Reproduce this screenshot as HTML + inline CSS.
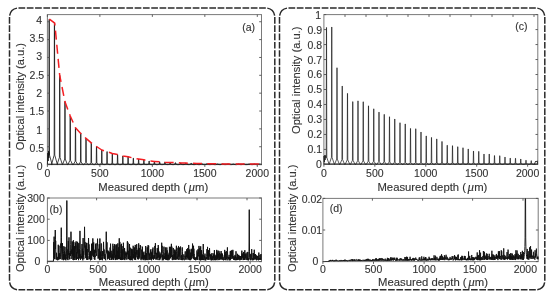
<!DOCTYPE html><html><head><meta charset="utf-8"><style>html,body{margin:0;padding:0;background:#fff;}svg{display:block;}</style></head><body><svg width="550" height="297" viewBox="0 0 550 297">
<rect width="550" height="297" fill="#fff"/>
<path d="M18.50 8.00L25.20 8.00M26.80 8.00L33.50 8.00M35.09 8.00L41.79 8.00M43.39 8.00L50.09 8.00M51.69 8.00L58.39 8.00M59.98 8.00L66.68 8.00M68.28 8.00L74.98 8.00M76.58 8.00L83.28 8.00M84.87 8.00L91.57 8.00M93.17 8.00L99.87 8.00M101.47 8.00L108.17 8.00M109.76 8.00L116.46 8.00M118.06 8.00L124.76 8.00M126.36 8.00L133.06 8.00M134.65 8.00L141.35 8.00M142.95 8.00L149.65 8.00M151.24 8.00L157.94 8.00M159.54 8.00L166.24 8.00M167.84 8.00L174.54 8.00M176.13 8.00L182.83 8.00M184.43 8.00L191.13 8.00M192.73 8.00L199.43 8.00M201.02 8.00L207.72 8.00M209.32 8.00L216.02 8.00M217.62 8.00L224.32 8.00M225.91 8.00L232.61 8.00M234.21 8.00L240.91 8.00M242.51 8.00L249.21 8.00M250.80 8.00L257.50 8.00M259.10 8.00L265.80 8.00M267.29 8.12A9.0 9.0 0 0 1 274.68 15.51M274.80 17.00L274.80 23.70M274.80 25.29L274.80 31.99M274.80 33.59L274.80 40.29M274.80 41.88L274.80 48.58M274.80 50.17L274.80 56.87M274.80 58.47L274.80 65.17M274.80 66.76L274.80 73.46M274.80 75.05L274.80 81.75M274.80 83.35L274.80 90.05M274.80 91.64L274.80 98.34M274.80 99.94L274.80 106.64M274.80 108.23L274.80 114.93M274.80 116.52L274.80 123.22M274.80 124.82L274.80 131.52M274.80 133.11L274.80 139.81M274.80 141.40L274.80 148.10M274.80 149.70L274.80 156.40M274.80 157.99L274.80 164.69M274.80 166.28L274.80 172.98M274.80 174.58L274.80 181.28M274.80 182.87L274.80 189.57M274.80 191.16L274.80 197.86M274.80 199.46L274.80 206.16M274.80 207.75L274.80 214.45M274.80 216.05L274.80 222.75M274.80 224.34L274.80 231.04M274.80 232.63L274.80 239.33M274.80 240.93L274.80 247.63M274.80 249.22L274.80 255.92M274.80 257.51L274.80 264.21M274.80 265.81L274.80 272.51M274.80 274.10L274.80 280.80M274.68 282.29A9.0 9.0 0 0 1 267.29 289.68M265.80 289.80L259.10 289.80M257.50 289.80L250.80 289.80M249.21 289.80L242.51 289.80M240.91 289.80L234.21 289.80M232.61 289.80L225.91 289.80M224.32 289.80L217.62 289.80M216.02 289.80L209.32 289.80M207.72 289.80L201.02 289.80M199.43 289.80L192.73 289.80M191.13 289.80L184.43 289.80M182.83 289.80L176.13 289.80M174.54 289.80L167.84 289.80M166.24 289.80L159.54 289.80M157.94 289.80L151.24 289.80M149.65 289.80L142.95 289.80M141.35 289.80L134.65 289.80M133.06 289.80L126.36 289.80M124.76 289.80L118.06 289.80M116.46 289.80L109.76 289.80M108.17 289.80L101.47 289.80M99.87 289.80L93.17 289.80M91.57 289.80L84.87 289.80M83.28 289.80L76.58 289.80M74.98 289.80L68.28 289.80M66.68 289.80L59.98 289.80M58.39 289.80L51.69 289.80M50.09 289.80L43.39 289.80M41.79 289.80L35.09 289.80M33.50 289.80L26.80 289.80M25.20 289.80L18.50 289.80M17.01 289.68A9.0 9.0 0 0 1 9.62 282.29M9.50 280.80L9.50 274.10M9.50 272.51L9.50 265.81M9.50 264.21L9.50 257.51M9.50 255.92L9.50 249.22M9.50 247.63L9.50 240.93M9.50 239.33L9.50 232.63M9.50 231.04L9.50 224.34M9.50 222.75L9.50 216.05M9.50 214.45L9.50 207.75M9.50 206.16L9.50 199.46M9.50 197.86L9.50 191.16M9.50 189.57L9.50 182.87M9.50 181.28L9.50 174.58M9.50 172.98L9.50 166.28M9.50 164.69L9.50 157.99M9.50 156.40L9.50 149.70M9.50 148.10L9.50 141.40M9.50 139.81L9.50 133.11M9.50 131.52L9.50 124.82M9.50 123.22L9.50 116.52M9.50 114.93L9.50 108.23M9.50 106.64L9.50 99.94M9.50 98.34L9.50 91.64M9.50 90.05L9.50 83.35M9.50 81.75L9.50 75.05M9.50 73.46L9.50 66.76M9.50 65.17L9.50 58.47M9.50 56.87L9.50 50.17M9.50 48.58L9.50 41.88M9.50 40.29L9.50 33.59M9.50 31.99L9.50 25.29M9.50 23.70L9.50 17.00M9.62 15.51A9.0 9.0 0 0 1 17.01 8.12" fill="none" stroke="#2a2a2a" stroke-width="1.5"/>
<path d="M288.50 8.00L295.20 8.00M296.80 8.00L303.50 8.00M305.09 8.00L311.79 8.00M313.39 8.00L320.09 8.00M321.69 8.00L328.39 8.00M329.98 8.00L336.68 8.00M338.28 8.00L344.98 8.00M346.58 8.00L353.28 8.00M354.87 8.00L361.57 8.00M363.17 8.00L369.87 8.00M371.47 8.00L378.17 8.00M379.76 8.00L386.46 8.00M388.06 8.00L394.76 8.00M396.36 8.00L403.06 8.00M404.65 8.00L411.35 8.00M412.95 8.00L419.65 8.00M421.24 8.00L427.94 8.00M429.54 8.00L436.24 8.00M437.84 8.00L444.54 8.00M446.13 8.00L452.83 8.00M454.43 8.00L461.13 8.00M462.73 8.00L469.43 8.00M471.02 8.00L477.72 8.00M479.32 8.00L486.02 8.00M487.62 8.00L494.32 8.00M495.91 8.00L502.61 8.00M504.21 8.00L510.91 8.00M512.51 8.00L519.21 8.00M520.80 8.00L527.50 8.00M529.10 8.00L535.80 8.00M537.29 8.12A9.0 9.0 0 0 1 544.68 15.51M544.80 17.00L544.80 23.70M544.80 25.29L544.80 31.99M544.80 33.59L544.80 40.29M544.80 41.88L544.80 48.58M544.80 50.17L544.80 56.87M544.80 58.47L544.80 65.17M544.80 66.76L544.80 73.46M544.80 75.05L544.80 81.75M544.80 83.35L544.80 90.05M544.80 91.64L544.80 98.34M544.80 99.94L544.80 106.64M544.80 108.23L544.80 114.93M544.80 116.52L544.80 123.22M544.80 124.82L544.80 131.52M544.80 133.11L544.80 139.81M544.80 141.40L544.80 148.10M544.80 149.70L544.80 156.40M544.80 157.99L544.80 164.69M544.80 166.28L544.80 172.98M544.80 174.58L544.80 181.28M544.80 182.87L544.80 189.57M544.80 191.16L544.80 197.86M544.80 199.46L544.80 206.16M544.80 207.75L544.80 214.45M544.80 216.05L544.80 222.75M544.80 224.34L544.80 231.04M544.80 232.63L544.80 239.33M544.80 240.93L544.80 247.63M544.80 249.22L544.80 255.92M544.80 257.51L544.80 264.21M544.80 265.81L544.80 272.51M544.80 274.10L544.80 280.80M544.68 282.29A9.0 9.0 0 0 1 537.29 289.68M535.80 289.80L529.10 289.80M527.50 289.80L520.80 289.80M519.21 289.80L512.51 289.80M510.91 289.80L504.21 289.80M502.61 289.80L495.91 289.80M494.32 289.80L487.62 289.80M486.02 289.80L479.32 289.80M477.72 289.80L471.02 289.80M469.43 289.80L462.73 289.80M461.13 289.80L454.43 289.80M452.83 289.80L446.13 289.80M444.54 289.80L437.84 289.80M436.24 289.80L429.54 289.80M427.94 289.80L421.24 289.80M419.65 289.80L412.95 289.80M411.35 289.80L404.65 289.80M403.06 289.80L396.36 289.80M394.76 289.80L388.06 289.80M386.46 289.80L379.76 289.80M378.17 289.80L371.47 289.80M369.87 289.80L363.17 289.80M361.57 289.80L354.87 289.80M353.28 289.80L346.58 289.80M344.98 289.80L338.28 289.80M336.68 289.80L329.98 289.80M328.39 289.80L321.69 289.80M320.09 289.80L313.39 289.80M311.79 289.80L305.09 289.80M303.50 289.80L296.80 289.80M295.20 289.80L288.50 289.80M287.01 289.68A9.0 9.0 0 0 1 279.62 282.29M279.50 280.80L279.50 274.10M279.50 272.51L279.50 265.81M279.50 264.21L279.50 257.51M279.50 255.92L279.50 249.22M279.50 247.63L279.50 240.93M279.50 239.33L279.50 232.63M279.50 231.04L279.50 224.34M279.50 222.75L279.50 216.05M279.50 214.45L279.50 207.75M279.50 206.16L279.50 199.46M279.50 197.86L279.50 191.16M279.50 189.57L279.50 182.87M279.50 181.28L279.50 174.58M279.50 172.98L279.50 166.28M279.50 164.69L279.50 157.99M279.50 156.40L279.50 149.70M279.50 148.10L279.50 141.40M279.50 139.81L279.50 133.11M279.50 131.52L279.50 124.82M279.50 123.22L279.50 116.52M279.50 114.93L279.50 108.23M279.50 106.64L279.50 99.94M279.50 98.34L279.50 91.64M279.50 90.05L279.50 83.35M279.50 81.75L279.50 75.05M279.50 73.46L279.50 66.76M279.50 65.17L279.50 58.47M279.50 56.87L279.50 50.17M279.50 48.58L279.50 41.88M279.50 40.29L279.50 33.59M279.50 31.99L279.50 25.29M279.50 23.70L279.50 17.00M279.62 15.51A9.0 9.0 0 0 1 287.01 8.12" fill="none" stroke="#2a2a2a" stroke-width="1.5"/>
<rect x="47.40" y="14.60" width="214.10" height="150.00" fill="none" stroke="#7a7a7a" stroke-width="1"/>
<rect x="47.40" y="198.00" width="214.10" height="63.60" fill="none" stroke="#7a7a7a" stroke-width="1"/>
<rect x="323.90" y="14.60" width="213.90" height="149.80" fill="none" stroke="#7a7a7a" stroke-width="1"/>
<rect x="322.90" y="198.40" width="215.30" height="63.20" fill="none" stroke="#7a7a7a" stroke-width="1"/>
<path d="M47.40 164.60L47.90 153.00L48.20 161.00L48.50 151.00L48.80 158.00L49.00 152.50L48.90 155.10L49.10 19.30L49.30 19.30L49.50 155.10L52.14 164.60L51.52 164.60L54.16 155.10L54.36 23.30L54.56 23.30L54.76 155.10L57.40 164.60L57.06 164.60L59.42 157.40L59.62 75.50L59.82 75.50L60.02 157.40L62.38 164.60L62.52 164.60L64.68 159.07L64.88 101.80L65.08 101.80L65.28 159.07L67.44 164.60L67.93 164.60L69.94 160.32L70.14 116.00L70.34 116.00L70.54 160.32L72.55 164.60L73.30 164.60L75.20 161.25L75.40 127.80L75.60 127.80L75.80 161.25L77.70 164.60L78.64 164.60L80.46 161.95L80.66 133.40L80.86 133.40L81.06 161.95L82.88 164.60L83.96 164.60L85.72 162.47L85.92 138.40L86.12 138.40L86.32 162.47L88.08 164.60L89.27 164.60L90.98 162.86L91.18 142.80L91.38 142.80L91.58 162.86L93.29 164.60L94.57 164.60L96.24 163.15L96.44 146.50L96.64 146.50L96.84 163.15L98.51 164.60L99.85 164.60L101.50 163.36L101.70 150.00L101.90 150.00L102.10 163.36L103.75 164.60L105.13 164.60L106.76 163.52L106.96 151.60L107.16 151.60L107.36 163.52L108.99 164.60L110.41 164.60L112.02 163.64L112.22 153.50L112.42 153.50L112.62 163.64L114.23 164.60L115.68 164.60L117.28 163.73L117.48 154.60L117.68 154.60L117.88 163.73L119.48 164.60L120.94 164.60L122.54 163.80L122.74 156.00L122.94 156.00L123.14 163.80L124.74 164.60L126.21 164.60L127.80 163.85L128.00 156.70L128.20 156.70L128.40 163.85L129.99 164.60L131.47 164.60L133.06 163.89L133.26 158.20L133.46 158.20L133.66 163.89L135.25 164.60L136.74 164.60L138.32 163.92L138.52 159.00L138.72 159.00L138.92 163.92L140.50 164.60L142.00 164.60L143.58 163.94L143.78 159.80L143.98 159.80L144.18 163.94L145.76 164.60L147.26 164.60L148.84 163.95L149.04 161.00L149.24 161.00L149.44 163.95L151.02 164.60L152.52 164.60L154.10 163.97L154.30 161.40L154.50 161.40L154.70 163.97L156.28 164.60L157.78 164.60L159.36 163.97L159.56 161.80L159.76 161.80L159.96 163.97L161.54 164.60L163.05 164.60L164.62 163.98L164.82 162.13L165.02 162.13L165.22 163.98L166.79 164.60L168.31 164.60L169.88 163.99L170.08 162.42L170.28 162.42L170.48 163.99L172.05 164.60L173.57 164.60L175.14 163.99L175.34 162.68L175.54 162.68L175.74 163.99L177.31 164.60L178.83 164.60L180.40 163.99L180.60 162.90L180.80 162.90L181.00 163.99L182.57 164.60L184.09 164.60L185.66 163.99L185.86 163.10L186.06 163.10L186.26 163.99L187.83 164.60L189.35 164.60L190.92 164.00L191.12 163.28L191.32 163.28L191.52 164.00L193.09 164.60L194.61 164.60L196.18 164.02L196.38 163.43L196.58 163.43L196.78 164.02L198.35 164.60L199.88 164.60L201.44 164.08L201.64 163.57L201.84 163.57L202.04 164.08L203.60 164.60L205.15 164.60L206.70 164.15L206.90 163.69L207.10 163.69L207.30 164.15L208.85 164.60L210.41 164.60L211.96 164.20L212.16 163.80L212.36 163.80L212.56 164.20L214.11 164.60L215.68 164.60L217.22 164.25L217.42 163.89L217.62 163.89L217.82 164.25L219.36 164.60L220.94 164.60L222.48 164.25L222.68 163.90L222.88 163.90L223.08 164.25L224.62 164.60L226.20 164.60L227.74 164.25L227.94 163.90L228.14 163.90L228.34 164.25L229.88 164.60L231.46 164.60L233.00 164.25L233.20 163.90L233.40 163.90L233.60 164.25L235.14 164.60L236.72 164.60L238.26 164.25L238.46 163.90L238.66 163.90L238.86 164.25L240.40 164.60L241.98 164.60L243.52 164.25L243.72 163.90L243.92 163.90L244.12 164.25L245.66 164.60L247.24 164.60L248.78 164.25L248.98 163.90L249.18 163.90L249.38 164.25L250.92 164.60L252.50 164.60L254.04 164.25L254.24 163.90L254.44 163.90L254.64 164.25L256.18 164.60L257.76 164.60L259.30 164.25L259.50 163.90L259.70 163.90L259.90 164.25L261.44 164.60L261.50 164.60" fill="none" stroke="#111" stroke-width="0.8" stroke-linejoin="round" />
<path d="M323.90 164.40L324.00 156.00L324.40 162.00L324.80 155.00L325.20 160.00L325.60 155.50L326.10 158.00L326.20 157.40L326.44 27.48L326.56 27.48L326.80 157.40L329.14 164.40L329.11 164.40L331.45 157.40L331.69 27.03L331.81 27.03L332.05 157.40L334.39 164.40L334.56 164.40L336.70 159.08L336.94 67.78L337.06 67.78L337.30 159.08L339.44 164.40L339.87 164.40L341.95 159.53L342.19 86.05L342.31 86.05L342.55 159.53L344.63 164.40L345.16 164.40L347.20 159.94L347.44 93.39L347.56 93.39L347.80 159.94L349.84 164.40L350.46 164.40L352.45 160.30L352.69 101.63L352.81 101.63L353.05 160.30L355.04 164.40L355.75 164.40L357.70 160.63L357.94 100.88L358.06 100.88L358.30 160.63L360.25 164.40L361.03 164.40L362.95 160.93L363.19 101.78L363.31 101.78L363.55 160.93L365.47 164.40L366.32 164.40L368.20 161.19L368.44 105.83L368.56 105.83L368.80 161.19L370.68 164.40L371.59 164.40L373.45 161.43L373.69 108.82L373.81 108.82L374.05 161.43L375.91 164.40L376.87 164.40L378.70 161.65L378.94 112.12L379.06 112.12L379.30 161.65L381.13 164.40L382.14 164.40L383.95 161.84L384.19 114.37L384.31 114.37L384.55 161.84L386.36 164.40L387.41 164.40L389.20 162.02L389.44 116.76L389.56 116.76L389.80 162.02L391.59 164.40L392.68 164.40L394.45 162.18L394.69 119.01L394.81 119.01L395.05 162.18L396.82 164.40L397.95 164.40L399.70 162.32L399.94 122.76L400.06 122.76L400.30 162.32L402.05 164.40L403.22 164.40L404.95 162.45L405.19 123.95L405.31 123.95L405.55 162.45L407.28 164.40L408.48 164.40L410.20 162.56L410.44 128.45L410.56 128.45L410.80 162.56L412.52 164.40L413.74 164.40L415.45 162.66L415.69 128.75L415.81 128.75L416.05 162.66L417.76 164.40L419.00 164.40L420.70 162.76L420.94 132.04L421.06 132.04L421.30 162.76L423.00 164.40L424.26 164.40L425.95 162.84L426.19 135.94L426.31 135.94L426.55 162.84L428.24 164.40L429.52 164.40L431.20 162.92L431.44 137.44L431.56 137.44L431.80 162.92L433.48 164.40L434.78 164.40L436.45 162.99L436.69 138.93L436.81 138.93L437.05 162.99L438.72 164.40L440.04 164.40L441.70 163.05L441.94 141.48L442.06 141.48L442.30 163.05L443.96 164.40L445.29 164.40L446.95 163.10L447.19 145.23L447.31 145.23L447.55 163.10L449.21 164.40L450.55 164.40L452.20 163.15L452.44 145.68L452.56 145.68L452.80 163.15L454.45 164.40L455.81 164.40L457.45 163.20L457.69 146.72L457.81 146.72L458.05 163.20L459.69 164.40L461.06 164.40L462.70 163.24L462.94 147.77L463.06 147.77L463.30 163.24L464.94 164.40L466.31 164.40L467.95 163.27L468.19 148.97L468.31 148.97L468.55 163.27L470.19 164.40L471.57 164.40L473.20 163.31L473.44 151.07L473.56 151.07L473.80 163.31L475.43 164.40L476.82 164.40L478.45 163.33L478.69 151.37L478.81 151.37L479.05 163.33L480.68 164.40L482.08 164.40L483.70 163.36L483.94 154.06L484.06 154.06L484.30 163.36L485.92 164.40L487.33 164.40L488.95 163.38L489.19 154.06L489.31 154.06L489.55 163.38L491.17 164.40L492.58 164.40L494.20 163.41L494.44 155.56L494.56 155.56L494.80 163.41L496.42 164.40L497.83 164.40L499.45 163.43L499.69 155.71L499.81 155.71L500.05 163.43L501.67 164.40L503.09 164.40L504.70 163.44L504.94 157.06L505.06 157.06L505.30 163.44L506.91 164.40L508.34 164.40L509.95 163.46L510.19 158.11L510.31 158.11L510.55 163.46L512.16 164.40L513.59 164.40L515.20 163.47L515.44 158.26L515.56 158.26L515.80 163.47L517.41 164.40L518.84 164.40L520.45 163.49L520.69 159.01L520.81 159.01L521.05 163.49L522.66 164.40L524.09 164.40L525.70 163.50L525.94 160.21L526.06 160.21L526.30 163.50L527.91 164.40L529.34 164.40L530.95 163.51L531.19 160.66L531.31 160.66L531.55 163.51L533.16 164.40L537.80 164.40" fill="none" stroke="#1a1a1a" stroke-width="0.72" stroke-linejoin="round" />
<path d="M47.40 164.20H261.50M323.90 164.00H537.80" stroke="#222" stroke-width="1.0"/>
<path d="M534.50 164.00L535.60 161.20L536.40 162.00L537.20 160.80L537.60 163.80" fill="none" stroke="#111" stroke-width="0.8" stroke-linejoin="round" />
<path d="M47.40 261.28L47.54 261.28L47.69 261.28L47.83 261.28L47.97 261.28L48.11 261.28L48.26 261.28L48.40 261.28L48.54 261.28L48.69 261.28L48.83 261.28L48.97 261.28L49.11 261.28L49.26 261.28L49.40 261.28L49.54 261.28L49.69 261.28L49.83 261.28L49.97 261.28L50.11 261.28L50.26 261.28L50.40 261.28L50.54 261.28L50.69 261.28L50.83 261.28L50.97 261.28L51.11 261.28L51.26 261.28L51.40 261.28L51.54 261.28L51.69 261.28L51.83 261.28L51.97 261.28L52.11 261.28L52.26 261.28L52.40 261.28L52.54 261.28L52.69 261.28L52.83 261.28L52.97 261.28L53.11 261.28L53.26 261.28L53.40 261.28L53.54 258.17L53.69 242.18L53.83 243.46L53.97 254.38L54.11 236.67L54.26 246.89L54.40 259.14L54.54 253.34L54.69 258.05L54.83 259.07L54.97 248.96L55.11 239.49L55.26 230.01L55.40 239.49L55.54 248.96L55.69 240.85L55.83 253.31L55.97 255.88L56.11 257.27L56.26 259.55L56.40 252.75L56.54 253.85L56.69 258.70L56.83 259.19L56.97 257.85L57.11 258.63L57.26 260.07L57.40 259.17L57.54 259.79L57.69 260.28L57.83 256.87L57.97 258.58L58.11 252.57L58.26 244.76L58.40 252.30L58.54 258.88L58.69 259.74L58.83 253.54L58.97 245.71L59.11 256.14L59.26 255.14L59.40 254.09L59.54 259.08L59.69 253.07L59.83 258.71L59.97 257.47L60.11 259.17L60.26 259.03L60.40 255.75L60.54 256.23L60.69 245.00L60.83 243.45L60.97 248.03L61.11 237.86L61.26 227.68L61.40 237.86L61.54 248.03L61.69 254.95L61.83 258.46L61.97 259.48L62.11 258.60L62.26 259.39L62.40 243.08L62.54 253.29L62.69 250.00L62.83 252.42L62.97 255.55L63.11 258.95L63.26 254.39L63.40 260.22L63.54 253.57L63.69 251.63L63.83 246.23L63.97 250.65L64.11 257.40L64.26 259.64L64.40 257.79L64.54 251.29L64.69 259.00L64.83 256.90L64.97 246.87L65.11 251.35L65.26 254.40L65.40 259.54L65.54 259.97L65.69 254.44L65.83 260.30L65.97 256.85L66.11 258.89L66.26 256.39L66.40 256.59L66.54 250.07L66.69 235.07L66.83 200.54L66.97 235.07L67.11 250.07L67.26 256.59L67.40 259.42L67.54 257.06L67.69 252.60L67.83 249.38L67.97 260.13L68.11 247.41L68.26 240.98L68.40 241.66L68.54 250.32L68.69 254.91L68.83 253.55L68.97 237.38L69.11 257.00L69.26 258.25L69.40 253.03L69.54 259.11L69.69 259.40L69.83 258.40L69.97 258.92L70.11 256.62L70.26 251.21L70.40 252.40L70.54 255.98L70.69 244.62L70.83 240.68L70.97 231.71L71.11 240.68L71.26 249.02L71.40 253.71L71.54 249.74L71.69 249.53L71.83 258.93L71.97 256.90L72.11 253.51L72.26 241.50L72.40 253.29L72.54 256.15L72.69 245.59L72.83 255.79L72.97 259.89L73.11 258.44L73.26 241.31L73.40 240.26L73.54 260.15L73.69 256.69L73.83 242.08L73.97 258.20L74.11 256.32L74.26 258.01L74.40 252.42L74.54 246.16L74.69 259.63L74.83 258.85L74.97 259.83L75.11 257.76L75.26 247.02L75.40 248.39L75.54 242.73L75.69 248.39L75.83 245.76L75.97 258.58L76.11 241.33L76.26 251.90L76.40 259.90L76.54 252.21L76.69 258.75L76.83 258.79L76.97 257.15L77.11 257.65L77.26 258.94L77.40 241.75L77.54 241.91L77.69 253.34L77.83 244.17L77.97 252.13L78.11 254.64L78.26 257.98L78.40 257.48L78.54 260.17L78.69 258.97L78.83 242.91L78.97 258.30L79.11 251.99L79.26 249.32L79.40 255.86L79.54 258.31L79.69 248.85L79.83 240.08L79.97 230.86L80.11 240.08L80.26 249.30L80.40 255.66L80.54 259.87L80.69 254.48L80.83 257.41L80.97 256.62L81.11 258.72L81.26 257.33L81.40 256.22L81.54 257.52L81.69 255.70L81.83 252.92L81.97 244.02L82.11 258.06L82.26 258.60L82.40 248.79L82.54 257.05L82.69 259.06L82.83 260.32L82.97 246.69L83.11 238.07L83.26 257.23L83.40 251.36L83.54 255.87L83.69 257.49L83.83 259.20L83.97 255.67L84.11 252.03L84.26 247.66L84.40 237.26L84.54 226.83L84.69 237.26L84.83 247.69L84.97 241.92L85.11 242.15L85.26 254.85L85.40 255.33L85.54 254.60L85.69 245.79L85.83 258.00L85.97 253.00L86.11 245.52L86.26 258.48L86.40 242.83L86.54 255.45L86.69 259.61L86.83 258.69L86.97 258.30L87.11 259.60L87.26 248.71L87.40 257.03L87.54 256.93L87.69 259.69L87.83 256.17L87.97 259.48L88.11 242.92L88.26 248.05L88.40 245.13L88.54 238.07L88.69 245.13L88.83 252.19L88.97 244.37L89.11 246.71L89.26 254.98L89.40 254.26L89.54 259.01L89.69 259.07L89.83 252.24L89.97 254.28L90.11 259.38L90.26 257.93L90.40 251.72L90.54 260.31L90.69 250.90L90.83 256.97L90.97 259.39L91.11 256.05L91.26 258.98L91.40 254.58L91.54 244.02L91.69 259.68L91.83 248.99L91.97 248.58L92.11 243.37L92.26 247.50L92.40 243.10L92.54 243.59L92.69 255.67L92.83 238.38L92.97 250.79L93.11 246.77L93.26 244.07L93.40 256.97L93.54 254.30L93.69 242.39L93.83 253.02L93.97 250.62L94.11 254.25L94.26 259.09L94.40 256.98L94.54 249.82L94.69 253.02L94.83 259.89L94.97 255.52L95.11 256.99L95.26 252.92L95.40 252.45L95.54 244.41L95.69 252.77L95.83 243.62L95.97 250.38L96.11 250.72L96.26 255.56L96.40 255.67L96.54 254.21L96.69 255.52L96.83 249.90L96.97 246.03L97.11 243.19L97.26 244.46L97.40 245.57L97.54 238.70L97.69 245.57L97.83 252.10L97.97 256.75L98.11 258.78L98.26 258.18L98.40 255.30L98.54 257.82L98.69 257.48L98.83 248.81L98.97 251.34L99.11 258.22L99.26 244.25L99.40 260.14L99.54 258.93L99.69 243.34L99.83 238.46L99.97 238.65L100.11 260.06L100.26 258.27L100.40 251.58L100.54 256.07L100.69 259.63L100.83 259.87L100.97 254.46L101.11 255.90L101.26 243.43L101.40 258.44L101.54 259.14L101.69 258.72L101.83 258.01L101.97 259.55L102.11 258.61L102.26 257.41L102.40 260.23L102.54 251.12L102.69 252.20L102.83 254.60L102.97 256.15L103.11 253.02L103.26 253.71L103.40 247.80L103.54 241.88L103.69 247.80L103.83 253.71L103.97 258.75L104.11 249.50L104.26 253.43L104.40 257.85L104.54 256.66L104.69 259.12L104.83 254.93L104.97 253.94L105.11 254.55L105.26 255.86L105.40 258.52L105.54 259.94L105.69 260.28L105.83 257.84L105.97 249.64L106.11 240.68L106.26 231.71L106.40 240.68L106.54 249.64L106.69 252.67L106.83 252.28L106.97 242.34L107.11 253.76L107.26 254.19L107.40 250.60L107.54 259.33L107.69 254.58L107.83 254.51L107.97 257.14L108.11 250.63L108.26 253.88L108.40 254.20L108.54 252.28L108.69 258.21L108.83 251.42L108.97 259.04L109.11 257.05L109.26 252.18L109.40 253.13L109.54 257.38L109.69 259.96L109.83 259.16L109.97 259.92L110.11 247.56L110.26 256.68L110.40 257.24L110.54 243.66L110.69 248.50L110.83 254.47L110.97 252.88L111.11 258.15L111.26 255.58L111.40 256.07L111.54 259.92L111.69 259.65L111.83 250.79L111.97 259.64L112.11 255.57L112.26 254.55L112.40 258.45L112.54 254.67L112.69 255.39L112.83 243.78L112.97 247.49L113.11 257.42L113.26 256.68L113.40 259.67L113.54 249.21L113.69 249.85L113.83 259.66L113.97 254.53L114.11 245.98L114.26 254.83L114.40 254.65L114.54 244.20L114.69 250.41L114.83 257.81L114.97 245.37L115.11 254.84L115.26 257.63L115.40 259.25L115.54 260.05L115.69 254.86L115.83 259.02L115.97 256.08L116.11 244.35L116.26 259.70L116.40 259.24L116.54 259.17L116.69 244.72L116.83 258.94L116.97 251.16L117.11 256.90L117.26 253.45L117.40 250.60L117.54 259.55L117.69 250.46L117.83 243.36L117.97 253.41L118.11 258.15L118.26 251.56L118.40 258.30L118.54 259.15L118.69 247.26L118.83 253.07L118.97 257.45L119.11 257.62L119.26 238.31L119.40 259.02L119.54 253.54L119.69 247.80L119.83 241.88L119.97 247.80L120.11 253.71L120.26 259.83L120.40 257.31L120.54 257.16L120.69 259.89L120.83 251.97L120.97 249.15L121.11 244.61L121.26 253.08L121.40 243.81L121.54 259.90L121.69 259.76L121.83 252.33L121.97 246.00L122.11 246.52L122.26 259.79L122.40 259.93L122.54 249.45L122.69 253.57L122.83 252.17L122.97 259.45L123.11 254.05L123.26 248.39L123.40 242.73L123.54 248.39L123.69 254.05L123.83 258.50L123.97 259.42L124.11 258.04L124.26 259.05L124.40 259.54L124.54 247.97L124.69 249.83L124.83 260.08L124.97 257.95L125.11 256.67L125.26 258.49L125.40 253.08L125.54 254.95L125.69 255.31L125.83 251.54L125.97 254.39L126.11 255.48L126.26 254.01L126.40 256.45L126.54 252.69L126.69 257.79L126.83 259.71L126.97 253.85L127.11 253.85L127.26 243.20L127.40 241.28L127.54 245.70L127.69 254.37L127.83 248.43L127.97 242.68L128.11 258.86L128.26 250.71L128.40 254.57L128.54 259.18L128.69 253.63L128.83 258.26L128.97 257.16L129.11 254.72L129.26 259.06L129.40 253.81L129.54 244.00L129.69 256.32L129.83 260.05L129.97 253.82L130.11 251.90L130.26 247.69L130.40 260.20L130.54 258.32L130.69 256.27L130.83 257.25L130.97 256.28L131.11 257.73L131.26 259.95L131.40 258.22L131.54 248.79L131.69 258.56L131.83 259.31L131.97 256.74L132.11 259.91L132.26 260.31L132.40 254.05L132.54 254.83L132.69 249.27L132.83 257.23L132.97 258.12L133.11 245.78L133.26 246.20L133.40 253.20L133.54 258.21L133.69 256.93L133.83 253.95L133.97 256.84L134.11 255.34L134.26 259.37L134.40 247.44L134.54 256.03L134.69 257.58L134.83 259.75L134.97 259.18L135.11 257.51L135.26 244.91L135.40 251.92L135.54 259.31L135.69 260.04L135.83 252.14L135.97 257.25L136.11 257.25L136.26 254.80L136.40 254.65L136.54 249.43L136.69 244.22L136.83 249.43L136.97 254.65L137.11 250.10L137.26 251.85L137.40 257.65L137.54 259.17L137.69 256.39L137.83 258.33L137.97 257.93L138.11 250.89L138.26 248.53L138.40 259.43L138.54 257.35L138.69 243.36L138.83 256.58L138.97 252.37L139.11 255.03L139.26 247.85L139.40 256.77L139.54 252.63L139.69 255.05L139.83 258.59L139.97 254.99L140.11 250.02L140.26 245.06L140.40 246.55L140.54 247.20L140.69 246.11L140.83 255.89L140.97 260.08L141.11 260.14L141.26 257.84L141.40 258.55L141.54 257.18L141.69 258.97L141.83 249.56L141.97 257.96L142.11 257.74L142.26 255.73L142.40 246.68L142.54 256.58L142.69 253.36L142.83 259.33L142.97 255.10L143.11 252.81L143.26 260.14L143.40 255.34L143.54 258.61L143.69 258.46L143.83 252.10L143.97 251.67L144.11 257.41L144.26 258.68L144.40 257.05L144.54 255.44L144.69 255.35L144.83 259.08L144.97 260.26L145.11 254.83L145.26 257.99L145.40 259.81L145.54 254.07L145.69 246.00L145.83 247.37L145.97 260.17L146.11 255.19L146.26 258.53L146.40 253.10L146.54 253.77L146.69 259.75L146.83 259.21L146.97 259.99L147.11 251.74L147.26 247.33L147.40 252.25L147.54 248.24L147.69 252.25L147.83 253.25L147.97 260.19L148.11 245.17L148.26 254.39L148.40 246.77L148.54 247.22L148.69 245.73L148.83 250.93L148.97 259.59L149.11 258.54L149.26 253.78L149.40 256.10L149.54 253.83L149.69 253.63L149.83 259.61L149.97 257.45L150.11 259.74L150.26 252.64L150.40 253.47L150.54 250.11L150.69 249.41L150.83 258.05L150.97 257.11L151.11 257.49L151.26 259.11L151.40 252.81L151.54 260.28L151.69 257.06L151.83 258.10L151.97 251.70L152.11 258.84L152.26 249.21L152.40 256.95L152.54 257.15L152.69 257.60L152.83 253.68L152.97 247.53L153.11 259.22L153.26 257.44L153.40 259.46L153.54 259.78L153.69 258.07L153.83 256.15L153.97 255.27L154.11 257.79L154.26 255.27L154.40 257.61L154.54 258.60L154.69 250.51L154.83 245.93L154.97 249.16L155.11 254.22L155.26 248.69L155.40 243.16L155.54 248.69L155.69 254.22L155.83 259.70L155.97 259.29L156.11 252.97L156.26 258.67L156.40 257.66L156.54 259.33L156.69 257.32L156.83 257.90L156.97 252.69L157.11 254.57L157.26 248.08L157.40 252.05L157.54 258.72L157.69 258.87L157.83 259.10L157.97 260.06L158.11 253.71L158.26 245.00L158.40 252.02L158.54 247.58L158.69 257.57L158.83 252.66L158.97 251.50L159.11 259.67L159.26 260.12L159.40 259.77L159.54 254.89L159.69 254.78L159.83 259.88L159.97 252.55L160.11 258.09L160.26 255.67L160.40 257.99L160.54 256.47L160.69 258.53L160.83 254.94L160.97 253.85L161.11 257.37L161.26 254.94L161.40 254.05L161.54 248.39L161.69 242.73L161.83 248.39L161.97 252.74L162.11 245.83L162.26 260.26L162.40 257.78L162.54 254.75L162.69 255.11L162.83 258.88L162.97 256.09L163.11 257.23L163.26 260.22L163.40 257.90L163.54 257.60L163.69 251.64L163.83 249.72L163.97 246.67L164.11 258.96L164.26 258.20L164.40 256.73L164.54 257.35L164.69 256.37L164.83 259.11L164.97 253.25L165.11 258.64L165.26 259.24L165.40 247.43L165.54 256.91L165.69 257.93L165.83 259.47L165.97 251.51L166.11 259.52L166.26 259.91L166.40 251.97L166.54 259.74L166.69 257.49L166.83 247.42L166.97 257.68L167.11 250.29L167.26 253.63L167.40 260.21L167.54 255.95L167.69 255.01L167.83 258.71L167.97 254.98L168.11 256.03L168.26 255.67L168.40 258.78L168.54 254.67L168.69 260.20L168.83 260.12L168.97 259.54L169.11 252.71L169.26 259.51L169.40 246.84L169.54 247.33L169.69 251.28L169.83 250.74L169.97 252.85L170.11 246.89L170.26 254.39L170.40 247.56L170.54 258.33L170.69 253.32L170.83 246.80L170.97 252.38L171.11 248.49L171.26 247.95L171.40 243.84L171.54 253.17L171.69 257.03L171.83 246.67L171.97 256.26L172.11 259.48L172.26 259.17L172.40 259.63L172.54 255.29L172.69 260.13L172.83 259.05L172.97 257.83L173.11 250.00L173.26 247.98L173.40 253.31L173.54 259.17L173.69 259.56L173.83 259.26L173.97 257.71L174.11 259.54L174.26 259.03L174.40 255.17L174.54 256.56L174.69 249.60L174.83 259.33L174.97 250.14L175.11 255.29L175.26 252.55L175.40 259.50L175.54 252.20L175.69 251.47L175.83 251.48L175.97 259.89L176.11 248.80L176.26 248.70L176.40 245.75L176.54 251.45L176.69 255.03L176.83 259.15L176.97 256.51L177.11 258.34L177.26 258.22L177.40 258.94L177.54 258.52L177.69 253.19L177.83 250.64L177.97 247.68L178.11 257.69L178.26 260.03L178.40 250.06L178.54 245.97L178.69 256.36L178.83 254.45L178.97 254.47L179.11 256.55L179.26 252.51L179.40 253.54L179.54 254.54L179.69 247.52L179.83 259.70L179.97 250.02L180.11 247.83L180.26 249.96L180.40 247.59L180.54 246.54L180.69 249.21L180.83 258.17L180.97 258.57L181.11 260.01L181.26 255.90L181.40 256.57L181.54 255.19L181.69 260.07L181.83 259.85L181.97 255.92L182.11 251.66L182.26 247.40L182.40 251.66L182.54 255.92L182.69 260.16L182.83 259.96L182.97 258.19L183.11 259.48L183.26 258.91L183.40 257.21L183.54 256.70L183.69 256.57L183.83 254.38L183.97 257.09L184.11 256.40L184.26 259.81L184.40 260.24L184.54 260.10L184.69 259.36L184.83 259.42L184.97 258.81L185.11 254.42L185.26 251.37L185.40 258.28L185.54 258.10L185.69 256.08L185.83 259.46L185.97 258.14L186.11 259.62L186.26 258.42L186.40 256.09L186.54 257.04L186.69 249.26L186.83 252.24L186.97 255.96L187.11 255.14L187.26 252.16L187.40 257.77L187.54 253.16L187.69 248.24L187.83 259.61L187.97 258.67L188.11 255.74L188.26 251.48L188.40 252.60L188.54 258.70L188.69 244.98L188.83 254.54L188.97 259.98L189.11 259.50L189.26 259.90L189.40 257.69L189.54 260.07L189.69 249.47L189.83 250.18L189.97 259.97L190.11 256.69L190.26 260.22L190.40 257.32L190.54 257.99L190.69 252.58L190.83 259.57L190.97 259.77L191.11 255.99L191.26 248.80L191.40 251.57L191.54 254.72L191.69 258.99L191.83 255.17L191.97 249.75L192.11 256.02L192.26 252.79L192.40 248.99L192.54 243.58L192.69 248.99L192.83 254.39L192.97 257.90L193.11 246.14L193.26 249.64L193.40 253.16L193.54 245.76L193.69 259.13L193.83 248.71L193.97 254.70L194.11 254.45L194.26 254.13L194.40 259.96L194.54 257.51L194.69 258.35L194.83 258.31L194.97 259.80L195.11 257.89L195.26 259.83L195.40 259.29L195.54 257.67L195.69 260.30L195.83 257.77L195.97 257.54L196.11 259.51L196.26 259.10L196.40 258.94L196.54 256.72L196.69 259.32L196.83 257.22L196.97 250.44L197.11 255.62L197.26 259.67L197.40 252.61L197.54 257.40L197.69 259.72L197.83 254.41L197.97 249.27L198.11 250.54L198.26 250.65L198.40 249.77L198.54 254.59L198.69 256.42L198.83 255.35L198.97 245.93L199.11 252.95L199.26 260.12L199.40 255.86L199.54 259.40L199.69 252.95L199.83 249.11L199.97 247.92L200.11 256.30L200.26 260.32L200.40 259.31L200.54 257.91L200.69 246.31L200.83 260.29L200.97 256.02L201.11 258.20L201.26 255.35L201.40 259.68L201.54 250.20L201.69 257.87L201.83 259.02L201.97 260.02L202.11 255.39L202.26 258.55L202.40 259.69L202.54 254.98L202.69 254.45L202.83 260.07L202.97 254.56L203.11 249.28L203.26 244.00L203.40 249.28L203.54 254.56L203.69 259.96L203.83 258.98L203.97 260.00L204.11 260.25L204.26 258.04L204.40 255.70L204.54 255.74L204.69 258.38L204.83 258.76L204.97 253.65L205.11 257.08L205.26 259.12L205.40 260.31L205.54 258.54L205.69 259.46L205.83 260.32L205.97 258.63L206.11 256.83L206.26 259.19L206.40 257.81L206.54 258.76L206.69 256.38L206.83 253.33L206.97 249.12L207.11 254.38L207.26 256.55L207.40 254.94L207.54 246.89L207.69 256.33L207.83 259.84L207.97 256.55L208.11 259.18L208.26 254.06L208.40 257.56L208.54 250.22L208.69 257.31L208.83 259.88L208.97 258.25L209.11 252.92L209.26 256.26L209.40 252.25L209.54 248.24L209.69 252.25L209.83 256.26L209.97 254.47L210.11 259.65L210.26 257.50L210.40 254.48L210.54 255.81L210.69 258.24L210.83 257.09L210.97 256.48L211.11 260.31L211.26 258.55L211.40 254.51L211.54 260.19L211.69 259.56L211.83 255.80L211.97 253.01L212.11 258.13L212.26 259.80L212.40 258.57L212.54 259.48L212.69 256.21L212.83 259.70L212.97 260.19L213.11 260.01L213.26 260.14L213.40 255.58L213.54 255.19L213.69 257.78L213.83 253.40L213.97 255.86L214.11 257.31L214.26 259.75L214.40 250.11L214.54 260.15L214.69 254.29L214.83 256.12L214.97 259.70L215.11 256.55L215.26 256.21L215.40 256.63L215.54 258.20L215.69 260.24L215.83 260.02L215.97 255.12L216.11 259.59L216.26 259.80L216.40 259.40L216.54 254.26L216.69 249.89L216.83 255.43L216.97 258.85L217.11 260.19L217.26 252.56L217.40 258.33L217.54 258.85L217.69 257.19L217.83 252.93L217.97 250.58L218.11 253.88L218.26 257.19L218.40 254.04L218.54 255.75L218.69 258.51L218.83 260.13L218.97 250.88L219.11 259.48L219.26 258.55L219.40 258.76L219.54 259.24L219.69 252.73L219.83 255.51L219.97 259.89L220.11 257.35L220.26 257.13L220.40 259.05L220.54 256.10L220.69 254.17L220.83 256.90L220.97 256.66L221.11 251.03L221.26 258.66L221.40 258.66L221.54 259.09L221.69 253.31L221.83 256.77L221.97 258.39L222.11 260.04L222.26 253.62L222.40 253.83L222.54 256.32L222.69 258.95L222.83 257.99L222.97 258.19L223.11 259.03L223.26 259.97L223.40 259.68L223.54 260.30L223.69 259.82L223.83 259.54L223.97 256.92L224.11 260.05L224.26 255.22L224.40 257.54L224.54 255.09L224.69 249.88L224.83 251.63L224.97 256.16L225.11 254.92L225.26 252.09L225.40 260.00L225.54 259.19L225.69 259.04L225.83 254.17L225.97 260.28L226.11 258.97L226.26 251.01L226.40 255.69L226.54 258.78L226.69 257.32L226.83 256.75L226.97 258.05L227.11 255.92L227.26 251.66L227.40 247.40L227.54 251.66L227.69 255.92L227.83 260.30L227.97 257.75L228.11 258.16L228.26 257.92L228.40 256.87L228.54 257.88L228.69 259.14L228.83 259.17L228.97 256.50L229.11 254.85L229.26 259.15L229.40 257.29L229.54 260.27L229.69 259.93L229.83 257.65L229.97 259.09L230.11 260.17L230.26 251.26L230.40 259.98L230.54 260.11L230.69 255.54L230.83 250.98L230.97 257.19L231.11 253.88L231.26 250.43L231.40 250.32L231.54 254.87L231.69 256.40L231.83 259.02L231.97 256.69L232.11 251.89L232.26 250.77L232.40 256.04L232.54 257.49L232.69 257.94L232.83 249.83L232.97 250.94L233.11 258.84L233.26 256.83L233.40 256.46L233.54 256.32L233.69 257.31L233.83 260.02L233.97 258.64L234.11 259.49L234.26 259.54L234.40 256.48L234.54 259.53L234.69 259.02L234.83 259.95L234.97 254.92L235.11 256.51L235.26 260.29L235.40 258.58L235.54 255.99L235.69 257.33L235.83 257.86L235.97 251.28L236.11 254.04L236.26 259.02L236.40 259.75L236.54 259.46L236.69 260.19L236.83 257.60L236.97 259.75L237.11 257.46L237.26 259.95L237.40 259.29L237.54 253.84L237.69 255.80L237.83 257.13L237.97 259.80L238.11 259.31L238.26 259.74L238.40 259.64L238.54 256.46L238.69 254.91L238.83 258.90L238.97 258.23L239.11 259.03L239.26 255.78L239.40 259.32L239.54 259.55L239.69 260.23L239.83 259.34L239.97 256.07L240.11 260.14L240.26 256.06L240.40 258.78L240.54 258.76L240.69 259.01L240.83 258.71L240.97 259.18L241.11 260.01L241.26 259.30L241.40 256.16L241.54 259.35L241.69 259.12L241.83 250.66L241.97 257.01L242.11 256.86L242.26 253.51L242.40 256.80L242.54 257.54L242.69 256.80L242.83 257.08L242.97 255.58L243.11 260.10L243.26 257.03L243.40 259.21L243.54 251.96L243.69 252.44L243.83 256.99L243.97 259.96L244.11 256.84L244.26 259.98L244.40 257.33L244.54 256.51L244.69 253.48L244.83 250.22L244.97 259.58L245.11 253.38L245.26 256.32L245.40 257.00L245.54 255.29L245.69 257.60L245.83 258.18L245.97 254.17L246.11 259.76L246.26 259.24L246.40 259.04L246.54 259.10L246.69 259.34L246.83 253.05L246.97 252.50L247.11 255.74L247.26 260.17L247.40 257.10L247.54 257.44L247.69 258.91L247.83 251.88L247.97 259.24L248.11 260.17L248.26 258.44L248.40 259.32L248.54 260.29L248.69 258.97L248.83 257.34L248.97 251.79L249.11 239.03L249.26 209.66L249.40 239.03L249.54 251.79L249.69 257.34L249.83 259.08L249.97 259.57L250.11 259.64L250.26 253.86L250.40 257.48L250.54 260.22L250.69 259.61L250.83 258.67L250.97 254.83L251.11 258.97L251.26 259.63L251.40 255.61L251.54 255.94L251.69 249.14L251.83 252.29L251.97 257.80L252.11 258.89L252.26 260.24L252.40 260.06L252.54 259.77L252.69 260.11L252.83 258.22L252.97 259.29L253.11 253.15L253.26 260.17L253.40 259.14L253.54 253.03L253.69 257.24L253.83 259.79L253.97 256.85L254.11 253.29L254.26 249.73L254.40 253.29L254.54 256.04L254.69 259.36L254.83 258.58L254.97 257.31L255.11 258.06L255.26 259.13L255.40 259.39L255.54 254.01L255.69 255.98L255.83 257.74L255.97 258.01L256.11 255.74L256.26 258.21L256.40 259.78L256.54 260.29L256.69 255.40L256.83 257.73L256.97 258.40L257.11 258.02L257.26 259.85L257.40 258.27L257.54 256.02L257.69 257.16L257.83 257.50L257.97 256.09L258.11 257.67L258.26 259.04L258.40 260.32L258.54 257.95L258.69 256.95L258.83 252.55L258.97 259.89L259.11 259.17L259.26 259.30L259.40 258.07L259.54 259.40L259.69 258.32L259.83 258.68L259.97 254.85L260.11 259.35L260.26 259.95L260.40 258.21L260.54 258.29L260.69 259.34L260.83 257.84L260.97 254.03L261.11 259.96L261.26 259.96L261.40 259.92" fill="none" stroke="#111" stroke-width="1.0" stroke-linejoin="round" />
<path d="M322.90 261.51L323.07 261.51L323.23 261.51L323.40 261.51L323.57 261.51L323.73 261.51L323.90 261.51L324.07 261.51L324.23 261.51L324.40 261.51L324.57 261.51L324.73 261.51L324.90 261.51L325.07 261.51L325.23 261.51L325.40 261.51L325.57 261.51L325.73 261.51L325.90 261.51L326.07 261.51L326.23 261.51L326.40 261.51L326.57 261.51L326.73 261.51L326.90 261.51L327.07 261.51L327.23 261.51L327.40 261.51L327.57 261.51L327.73 261.51L327.90 261.51L328.07 261.51L328.23 261.51L328.40 261.51L328.57 261.51L328.73 261.51L328.90 261.51L329.07 260.59L329.23 261.18L329.40 260.81L329.57 261.12L329.73 261.14L329.90 260.39L330.07 260.97L330.23 260.81L330.40 259.92L330.57 261.01L330.73 260.09L330.90 261.04L331.07 260.85L331.23 261.03L331.40 260.71L331.57 260.89L331.73 260.96L331.90 260.86L332.07 260.08L332.23 259.87L332.40 260.92L332.57 260.02L332.73 261.01L332.90 260.47L333.07 260.85L333.23 260.67L333.40 260.75L333.57 260.90L333.73 261.17L333.90 260.41L334.07 260.53L334.23 260.11L334.40 260.31L334.57 260.99L334.73 260.94L334.90 260.95L335.07 260.68L335.23 261.15L335.40 260.67L335.57 260.48L335.73 260.96L335.90 260.34L336.07 259.65L336.23 260.53L336.40 260.43L336.57 260.62L336.73 261.09L336.90 260.11L337.07 260.69L337.23 260.49L337.40 260.66L337.57 260.77L337.73 260.87L337.90 260.71L338.07 260.66L338.23 260.57L338.40 261.03L338.57 261.00L338.73 261.01L338.90 261.05L339.07 260.90L339.23 260.91L339.40 260.29L339.57 260.79L339.73 261.11L339.90 260.60L340.07 260.82L340.23 260.85L340.40 260.76L340.57 260.64L340.73 260.54L340.90 261.04L341.07 259.95L341.23 260.92L341.40 260.90L341.57 260.71L341.73 260.65L341.90 260.93L342.07 261.07L342.23 260.27L342.40 260.69L342.57 260.77L342.73 260.60L342.90 260.82L343.07 260.37L343.23 261.05L343.40 260.74L343.57 260.09L343.73 260.80L343.90 260.10L344.07 260.00L344.23 260.21L344.40 260.15L344.57 261.09L344.73 260.28L344.90 260.42L345.07 259.56L345.23 260.37L345.40 260.99L345.57 260.49L345.73 260.37L345.90 261.08L346.07 260.58L346.23 260.64L346.40 260.53L346.57 260.20L346.73 260.67L346.90 261.01L347.07 260.18L347.23 260.89L347.40 260.93L347.57 260.95L347.73 261.06L347.90 260.91L348.07 260.84L348.23 260.73L348.40 260.64L348.57 261.02L348.73 260.84L348.90 261.06L349.07 260.56L349.23 259.86L349.40 260.64L349.57 260.90L349.73 260.67L349.90 260.20L350.07 260.86L350.23 260.88L350.40 260.62L350.57 259.90L350.73 260.38L350.90 260.26L351.07 260.09L351.23 259.37L351.40 260.46L351.57 260.70L351.73 260.01L351.90 259.57L352.07 260.17L352.23 260.54L352.40 259.19L352.57 261.05L352.73 260.40L352.90 260.48L353.07 260.96L353.23 260.63L353.40 260.07L353.57 260.16L353.73 259.79L353.90 260.66L354.07 259.20L354.23 259.63L354.40 260.70L354.57 260.39L354.73 260.12L354.90 260.76L355.07 259.48L355.23 260.41L355.40 260.46L355.57 260.53L355.73 260.54L355.90 260.50L356.07 260.37L356.23 260.84L356.40 260.62L356.57 260.50L356.73 259.27L356.90 259.37L357.07 260.44L357.23 260.51L357.40 260.27L357.57 260.35L357.73 260.22L357.90 260.87L358.07 260.39L358.23 259.78L358.40 260.70L358.57 260.47L358.73 259.30L358.90 260.74L359.07 260.93L359.23 259.78L359.40 260.65L359.57 259.80L359.73 260.70L359.90 260.34L360.07 260.70L360.23 259.66L360.40 260.71L360.57 260.99L360.73 260.90L360.90 260.31L361.07 260.67L361.23 260.25L361.40 260.80L361.57 260.19L361.73 260.03L361.90 260.43L362.07 260.08L362.23 260.46L362.40 260.88L362.57 260.65L362.73 260.51L362.90 260.27L363.07 259.71L363.23 260.22L363.40 260.58L363.57 260.31L363.73 259.97L363.90 260.30L364.07 260.81L364.23 260.24L364.40 260.74L364.57 259.97L364.73 259.78L364.90 260.51L365.07 260.48L365.23 260.86L365.40 260.75L365.57 260.93L365.73 260.02L365.90 259.54L366.07 260.89L366.23 260.53L366.40 259.18L366.57 260.20L366.73 260.67L366.90 260.63L367.07 259.78L367.23 258.87L367.40 260.45L367.57 260.78L367.73 258.97L367.90 258.93L368.07 260.27L368.23 260.39L368.40 258.85L368.57 260.57L368.73 259.85L368.90 260.24L369.07 260.29L369.23 260.85L369.40 260.77L369.57 260.80L369.73 259.30L369.90 259.65L370.07 260.81L370.23 260.77L370.40 260.80L370.57 260.00L370.73 259.79L370.90 260.67L371.07 260.90L371.23 260.87L371.40 260.89L371.57 260.05L371.73 260.61L371.90 260.29L372.07 260.00L372.23 260.82L372.40 260.26L372.57 259.38L372.73 260.78L372.90 260.48L373.07 259.61L373.23 260.37L373.40 259.77L373.57 259.88L373.73 260.43L373.90 260.56L374.07 259.41L374.23 260.52L374.40 259.74L374.57 260.47L374.73 260.18L374.90 260.62L375.07 260.59L375.23 260.48L375.40 260.44L375.57 258.60L375.73 260.26L375.90 260.91L376.07 260.79L376.23 258.11L376.40 259.50L376.57 259.00L376.73 260.91L376.90 260.19L377.07 259.40L377.23 259.36L377.40 260.63L377.57 259.68L377.73 259.73L377.90 259.86L378.07 260.59L378.23 260.39L378.40 260.62L378.57 260.09L378.73 259.00L378.90 260.74L379.07 258.57L379.23 260.62L379.40 260.52L379.57 258.34L379.73 259.97L379.90 260.14L380.07 259.33L380.23 260.09L380.40 259.93L380.57 258.34L380.73 260.75L380.90 260.73L381.07 260.38L381.23 260.68L381.40 260.59L381.57 260.59L381.73 257.99L381.90 258.57L382.07 260.18L382.23 259.64L382.40 258.99L382.57 258.61L382.73 260.60L382.90 259.83L383.07 260.22L383.23 258.96L383.40 259.95L383.57 260.16L383.73 260.74L383.90 260.59L384.07 260.45L384.23 259.47L384.40 260.50L384.57 260.42L384.73 260.08L384.90 260.37L385.07 260.04L385.23 258.63L385.40 260.49L385.57 260.04L385.73 260.49L385.90 260.07L386.07 260.61L386.23 260.68L386.40 259.81L386.57 259.63L386.73 260.64L386.90 260.68L387.07 260.73L387.23 260.48L387.40 257.83L387.57 260.68L387.73 258.92L387.90 260.73L388.07 258.97L388.23 260.53L388.40 258.94L388.57 260.35L388.73 258.00L388.90 259.33L389.07 259.61L389.23 259.91L389.40 260.69L389.57 260.26L389.73 259.29L389.90 260.51L390.07 259.98L390.23 260.47L390.40 259.27L390.57 257.38L390.73 259.97L390.90 259.24L391.07 260.21L391.23 259.61L391.40 260.55L391.57 258.66L391.73 259.32L391.90 257.30L392.07 258.56L392.23 259.77L392.40 258.51L392.57 259.46L392.73 259.68L392.90 258.25L393.07 260.72L393.23 260.72L393.40 259.70L393.57 259.45L393.73 257.70L393.90 259.57L394.07 259.90L394.23 258.77L394.40 259.51L394.57 259.85L394.73 257.68L394.90 259.94L395.07 259.65L395.23 259.77L395.40 260.71L395.57 260.63L395.73 260.61L395.90 260.06L396.07 259.53L396.23 258.59L396.40 260.79L396.57 260.27L396.73 257.90L396.90 257.60L397.07 259.72L397.23 258.21L397.40 260.53L397.57 260.72L397.73 260.32L397.90 260.02L398.07 259.13L398.23 259.48L398.40 259.87L398.57 260.07L398.73 260.02L398.90 260.68L399.07 260.49L399.23 260.36L399.40 259.10L399.57 259.18L399.73 259.83L399.90 260.63L400.07 259.79L400.23 258.09L400.40 258.94L400.57 259.14L400.73 260.17L400.90 260.39L401.07 259.58L401.23 258.56L401.40 260.12L401.57 259.61L401.73 258.81L401.90 260.49L402.07 260.32L402.23 260.71L402.40 260.61L402.57 260.76L402.73 260.24L402.90 259.12L403.07 259.60L403.23 259.80L403.40 259.46L403.57 260.61L403.73 260.49L403.90 259.54L404.07 260.34L404.23 260.37L404.40 260.19L404.57 260.52L404.73 260.02L404.90 256.99L405.07 259.76L405.23 260.05L405.40 258.98L405.57 259.09L405.73 260.68L405.90 257.00L406.07 259.50L406.23 260.46L406.40 258.12L406.57 258.37L406.73 256.65L406.90 260.52L407.07 257.27L407.23 258.12L407.40 260.47L407.57 257.28L407.73 260.06L407.90 260.48L408.07 259.13L408.23 260.58L408.40 259.77L408.57 259.80L408.73 259.13L408.90 259.51L409.07 259.26L409.23 260.71L409.40 259.86L409.57 259.74L409.73 259.32L409.90 259.98L410.07 256.78L410.23 259.93L410.40 259.27L410.57 258.90L410.73 259.59L410.90 260.48L411.07 260.24L411.23 259.85L411.40 260.38L411.57 259.23L411.73 259.59L411.90 259.49L412.07 260.52L412.23 259.73L412.40 259.91L412.57 258.47L412.73 260.02L412.90 259.72L413.07 259.77L413.23 257.90L413.40 260.27L413.57 260.06L413.73 260.39L413.90 258.55L414.07 260.27L414.23 259.44L414.40 258.57L414.57 260.50L414.73 259.43L414.90 259.47L415.07 260.02L415.23 258.57L415.40 259.39L415.57 258.88L415.73 257.59L415.90 258.35L416.07 258.43L416.23 260.01L416.40 259.03L416.57 259.67L416.73 259.32L416.90 258.99L417.07 259.92L417.23 260.12L417.40 260.30L417.57 259.91L417.73 259.96L417.90 260.53L418.07 260.63L418.23 260.02L418.40 259.92L418.57 260.52L418.73 260.16L418.90 260.00L419.07 258.26L419.23 257.51L419.40 260.19L419.57 259.27L419.73 258.71L419.90 257.36L420.07 260.48L420.23 260.10L420.40 259.57L420.57 260.17L420.73 260.19L420.90 260.64L421.07 260.59L421.23 260.33L421.40 260.45L421.57 260.01L421.73 256.34L421.90 260.20L422.07 259.93L422.23 260.53L422.40 260.44L422.57 259.39L422.73 259.34L422.90 258.87L423.07 259.51L423.23 260.05L423.40 259.29L423.57 260.35L423.73 258.96L423.90 256.76L424.07 260.11L424.23 259.06L424.40 259.51L424.57 258.47L424.73 260.40L424.90 259.04L425.07 258.63L425.23 258.60L425.40 260.39L425.57 257.10L425.73 259.52L425.90 257.44L426.07 259.32L426.23 260.24L426.40 260.31L426.57 259.94L426.73 260.62L426.90 259.43L427.07 259.96L427.23 258.73L427.40 260.14L427.57 259.74L427.73 260.43L427.90 260.11L428.07 259.41L428.23 259.72L428.40 260.15L428.57 260.04L428.73 259.40L428.90 260.41L429.07 256.79L429.23 259.69L429.40 258.07L429.57 259.60L429.73 258.79L429.90 259.46L430.07 258.69L430.23 258.66L430.40 259.94L430.57 260.24L430.73 259.69L430.90 260.28L431.07 259.35L431.23 260.07L431.40 258.33L431.57 259.51L431.73 259.69L431.90 259.90L432.07 258.51L432.23 259.85L432.40 259.39L432.57 258.38L432.73 259.14L432.90 260.30L433.07 259.63L433.23 258.58L433.40 259.76L433.57 260.08L433.73 260.05L433.90 259.48L434.07 255.32L434.23 258.63L434.40 259.88L434.57 257.78L434.73 260.27L434.90 259.67L435.07 258.40L435.23 259.50L435.40 255.69L435.57 256.19L435.73 260.37L435.90 258.54L436.07 260.11L436.23 260.13L436.40 260.17L436.57 259.78L436.73 259.50L436.90 256.88L437.07 258.44L437.23 258.93L437.40 259.20L437.57 260.20L437.73 259.90L437.90 258.50L438.07 258.96L438.23 259.20L438.40 260.41L438.57 259.26L438.73 260.50L438.90 260.31L439.07 258.95L439.23 259.84L439.40 257.98L439.57 260.42L439.73 258.66L439.90 257.09L440.07 256.33L440.23 259.01L440.40 255.79L440.57 260.00L440.73 259.61L440.90 257.94L441.07 259.95L441.23 258.21L441.40 257.50L441.57 254.25L441.73 258.13L441.90 259.85L442.07 258.43L442.23 255.89L442.40 260.03L442.57 257.54L442.73 258.60L442.90 257.24L443.07 258.51L443.23 258.34L443.40 257.86L443.57 257.65L443.73 260.06L443.90 258.25L444.07 258.90L444.23 258.11L444.40 255.22L444.57 258.58L444.73 260.15L444.90 260.06L445.07 256.66L445.23 259.43L445.40 258.58L445.57 258.07L445.73 258.26L445.90 258.81L446.07 254.77L446.23 257.49L446.40 259.50L446.57 259.85L446.73 259.67L446.90 256.73L447.07 256.95L447.23 257.59L447.40 258.84L447.57 257.69L447.73 258.74L447.90 260.10L448.07 258.50L448.23 259.58L448.40 259.56L448.57 260.16L448.73 259.34L448.90 260.06L449.07 260.11L449.23 259.73L449.40 260.09L449.57 258.71L449.73 259.75L449.90 259.16L450.07 256.93L450.23 258.93L450.40 259.61L450.57 258.52L450.73 259.26L450.90 259.23L451.07 258.82L451.23 259.17L451.40 259.49L451.57 259.37L451.73 258.30L451.90 259.53L452.07 256.27L452.23 258.51L452.40 258.42L452.57 258.77L452.73 256.34L452.90 258.10L453.07 260.38L453.23 260.35L453.40 260.18L453.57 259.85L453.73 259.02L453.90 259.46L454.07 257.91L454.23 255.97L454.40 259.28L454.57 255.11L454.73 258.49L454.90 257.93L455.07 257.11L455.23 258.03L455.40 259.09L455.57 260.36L455.73 256.53L455.90 259.76L456.07 257.39L456.23 257.97L456.40 259.22L456.57 257.10L456.73 259.41L456.90 260.05L457.07 257.91L457.23 259.02L457.40 259.85L457.57 259.85L457.73 260.12L457.90 255.21L458.07 257.72L458.23 254.43L458.40 260.04L458.57 259.34L458.73 258.72L458.90 258.75L459.07 260.18L459.23 259.13L459.40 259.50L459.57 260.08L459.73 259.80L459.90 260.18L460.07 259.53L460.23 259.33L460.40 259.82L460.57 259.17L460.73 257.11L460.90 259.21L461.07 257.83L461.23 260.24L461.40 258.24L461.57 256.84L461.73 260.19L461.90 255.75L462.07 260.13L462.23 257.40L462.40 259.67L462.57 259.23L462.73 255.99L462.90 257.37L463.07 258.35L463.23 259.77L463.40 259.82L463.57 259.49L463.73 258.88L463.90 258.50L464.07 258.17L464.23 259.73L464.40 259.70L464.57 255.90L464.73 258.25L464.90 259.77L465.07 258.11L465.23 256.15L465.40 257.59L465.57 259.86L465.73 259.23L465.90 260.11L466.07 259.39L466.23 259.94L466.40 260.22L466.57 259.17L466.73 259.74L466.90 260.18L467.07 259.04L467.23 258.32L467.40 259.94L467.57 257.94L467.73 259.98L467.90 257.86L468.07 260.33L468.23 258.15L468.40 258.45L468.57 251.49L468.73 258.33L468.90 257.98L469.07 259.31L469.23 260.08L469.40 257.04L469.57 259.66L469.73 255.88L469.90 259.83L470.07 258.96L470.23 259.91L470.40 258.46L470.57 260.18L470.73 259.24L470.90 259.58L471.07 259.15L471.23 260.16L471.40 258.98L471.57 259.31L471.73 254.97L471.90 259.46L472.07 260.09L472.23 258.66L472.40 257.39L472.57 257.03L472.73 260.31L472.90 259.14L473.07 259.27L473.23 258.31L473.40 260.24L473.57 257.26L473.73 259.86L473.90 260.10L474.07 259.24L474.23 258.94L474.40 260.05L474.57 257.61L474.73 258.58L474.90 259.32L475.07 258.56L475.23 258.32L475.40 257.81L475.57 258.37L475.73 258.69L475.90 256.76L476.07 258.04L476.23 257.29L476.40 259.54L476.57 259.07L476.73 258.34L476.90 259.59L477.07 258.17L477.23 252.43L477.40 258.81L477.57 255.67L477.73 260.10L477.90 258.31L478.07 260.11L478.23 258.49L478.40 258.66L478.57 255.08L478.73 255.30L478.90 258.80L479.07 258.95L479.23 260.01L479.40 253.39L479.57 250.22L479.73 259.38L479.90 260.27L480.07 257.55L480.23 260.19L480.40 258.50L480.57 252.68L480.73 260.06L480.90 258.83L481.07 260.10L481.23 259.41L481.40 259.10L481.57 257.05L481.73 257.63L481.90 259.77L482.07 258.13L482.23 258.72L482.40 259.32L482.57 259.59L482.73 258.37L482.90 256.03L483.07 259.29L483.23 260.02L483.40 251.00L483.57 256.84L483.73 255.65L483.90 255.94L484.07 258.47L484.23 257.67L484.40 251.81L484.57 259.88L484.73 257.49L484.90 255.31L485.07 256.78L485.23 258.90L485.40 256.38L485.57 258.05L485.73 259.27L485.90 259.20L486.07 258.34L486.23 256.44L486.40 253.45L486.57 258.74L486.73 259.81L486.90 257.05L487.07 259.64L487.23 253.84L487.40 259.96L487.57 258.24L487.73 258.24L487.90 257.79L488.07 255.92L488.23 257.62L488.40 259.14L488.57 259.35L488.73 259.33L488.90 259.04L489.07 258.12L489.23 253.79L489.40 258.24L489.57 256.77L489.73 259.35L489.90 257.37L490.07 259.54L490.23 258.75L490.40 257.32L490.57 259.15L490.73 259.34L490.90 256.90L491.07 257.49L491.23 257.55L491.40 259.88L491.57 259.36L491.73 255.78L491.90 250.76L492.07 259.15L492.23 254.35L492.40 259.85L492.57 259.54L492.73 257.01L492.90 259.30L493.07 259.16L493.23 259.73L493.40 259.77L493.57 254.62L493.73 256.70L493.90 258.47L494.07 259.86L494.23 259.30L494.40 259.90L494.57 256.68L494.73 259.46L494.90 255.30L495.07 257.74L495.23 259.62L495.40 258.31L495.57 257.41L495.73 257.95L495.90 257.01L496.07 257.52L496.23 255.81L496.40 253.96L496.57 258.88L496.73 256.87L496.90 255.04L497.07 257.63L497.23 258.70L497.40 255.88L497.57 258.67L497.73 258.88L497.90 260.11L498.07 258.48L498.23 257.00L498.40 251.24L498.57 257.29L498.73 255.97L498.90 258.32L499.07 253.52L499.23 259.16L499.40 257.16L499.57 251.15L499.73 258.43L499.90 258.92L500.07 258.28L500.23 258.77L500.40 257.41L500.57 255.95L500.73 256.30L500.90 257.97L501.07 259.95L501.23 250.27L501.40 251.10L501.57 256.02L501.73 251.32L501.90 259.47L502.07 255.14L502.23 257.40L502.40 256.42L502.57 257.28L502.73 257.24L502.90 258.79L503.07 258.70L503.23 257.84L503.40 259.45L503.57 258.89L503.73 248.33L503.90 257.21L504.07 259.42L504.23 254.90L504.40 259.44L504.57 259.96L504.73 257.63L504.90 258.24L505.07 257.92L505.23 259.52L505.40 259.20L505.57 258.22L505.73 255.76L505.90 258.71L506.07 257.71L506.23 258.36L506.40 257.79L506.57 258.66L506.73 257.97L506.90 256.75L507.07 252.07L507.23 259.08L507.40 259.69L507.57 257.24L507.73 258.20L507.90 259.00L508.07 249.60L508.23 255.22L508.40 258.54L508.57 258.53L508.73 258.59L508.90 256.37L509.07 256.36L509.23 258.02L509.40 259.37L509.57 253.98L509.73 255.23L509.90 257.78L510.07 259.73L510.23 255.55L510.40 259.60L510.57 258.68L510.73 253.16L510.90 259.13L511.07 253.46L511.23 259.22L511.40 256.10L511.57 259.20L511.73 259.27L511.90 259.75L512.07 256.97L512.23 259.71L512.40 253.63L512.57 259.08L512.73 257.51L512.90 259.96L513.07 258.66L513.23 259.75L513.40 259.04L513.57 255.37L513.73 257.76L513.90 256.16L514.07 256.14L514.23 258.11L514.40 257.54L514.57 259.77L514.73 259.56L514.90 258.41L515.07 254.07L515.23 258.79L515.40 255.15L515.57 260.06L515.73 257.09L515.90 250.28L516.07 256.54L516.23 259.19L516.40 258.55L516.57 256.02L516.73 253.51L516.90 256.49L517.07 250.48L517.23 256.20L517.40 255.99L517.57 258.63L517.73 257.54L517.90 259.41L518.07 258.43L518.23 253.84L518.40 259.08L518.57 257.09L518.73 258.93L518.90 256.53L519.07 259.25L519.23 257.26L519.40 255.01L519.57 255.51L519.73 256.67L519.90 256.57L520.07 257.11L520.23 257.66L520.40 256.26L520.57 259.31L520.73 252.03L520.90 259.02L521.07 257.73L521.23 258.20L521.40 255.01L521.57 254.29L521.73 258.29L521.90 255.36L522.07 259.74L522.23 255.84L522.40 250.84L522.57 256.99L522.73 259.04L522.90 258.74L523.07 259.83L523.23 258.46L523.40 259.67L523.57 252.12L523.73 258.83L523.90 258.29L524.07 255.97L524.23 255.91L524.40 254.65L524.57 252.75L524.73 250.22L524.90 246.43L525.07 237.90L525.23 198.72L525.40 198.72L525.57 198.72L525.73 237.90L525.90 246.43L526.07 250.22L526.23 252.75L526.40 254.65L526.57 255.91L526.73 255.18L526.90 258.36L527.07 258.86L527.23 248.96L527.40 258.98L527.57 257.47L527.73 257.67L527.90 254.51L528.07 259.65L528.23 251.17L528.40 255.34L528.57 255.84L528.73 256.55L528.90 259.56L529.07 259.08L529.23 256.15L529.40 256.44L529.57 247.38L529.73 257.74L529.90 256.04L530.07 257.23L530.23 256.44L530.40 250.04L530.57 246.12L530.73 258.67L530.90 257.80L531.07 254.23L531.23 256.99L531.40 256.07L531.57 249.59L531.73 258.28L531.90 257.99L532.07 259.03L532.23 256.49L532.40 256.68L532.57 257.18L532.73 255.56L532.90 257.33L533.07 258.55L533.23 258.51L533.40 251.80L533.57 252.47L533.73 256.20L533.90 258.46L534.07 256.19L534.23 258.28L534.40 258.37L534.57 258.14L534.73 258.81L534.90 259.73L535.07 250.22L535.23 252.35L535.40 257.59L535.57 253.66L535.73 256.73L535.90 256.76L536.07 256.48L536.23 252.62L536.40 248.64L536.57 253.63L536.73 255.09L536.90 256.39L537.07 258.79L537.23 257.27L537.40 258.06L537.57 257.73L537.73 259.15L537.90 256.54L538.07 259.34" fill="none" stroke="#111" stroke-width="0.9" stroke-linejoin="round" />
<path d="M49.40 19.10L54.75 23.20L54.96 25.45M55.46 30.63L56.31 39.59M56.80 44.76L57.65 53.72M58.14 58.90L58.99 67.86M59.49 73.04L59.72 75.50L61.00 81.90M62.02 87.00L63.78 95.82M64.80 100.92L64.98 101.80L67.79 109.40M69.60 114.27L70.24 116.00L73.16 122.54M75.27 127.29L75.50 127.80L80.76 133.40L81.31 133.92M85.08 137.50L86.02 138.40L91.28 142.80L91.97 143.29M96.22 146.28L96.54 146.50L101.80 150.00L103.99 150.67M108.94 152.28L112.32 153.50L117.58 154.60L117.61 154.61M122.63 155.95L122.84 156.00L128.10 156.70L131.45 157.65M136.53 158.68L138.62 159.00L143.88 159.80L145.41 160.15M150.51 161.10L154.40 161.40L159.48 161.79M164.67 162.11L164.92 162.13L170.18 162.42L173.66 162.59M178.86 162.82L180.70 162.90L185.96 163.10L187.85 163.16M193.05 163.33L196.48 163.43L201.74 163.57L202.04 163.58M207.24 163.70L212.26 163.80L216.24 163.87M221.44 163.90L222.78 163.90L228.04 163.90L230.44 163.90M235.64 163.90L238.56 163.90L243.82 163.90L244.64 163.90M249.84 163.90L254.34 163.90L258.84 163.90" fill="none" stroke="#f41e23" stroke-width="1.5" stroke-linejoin="round"/>
<path d="M47.40 164.60v2.3M99.88 164.60v2.3M152.35 164.60v2.3M204.83 164.60v2.3M257.30 164.60v2.3M47.40 14.60v2.3M99.88 14.60v2.3M152.35 14.60v2.3M204.83 14.60v2.3M257.30 14.60v2.3M47.40 164.60h2.3M261.50 164.60h-2.3M47.40 146.74h2.3M261.50 146.74h-2.3M47.40 128.89h2.3M261.50 128.89h-2.3M47.40 111.03h2.3M261.50 111.03h-2.3M47.40 93.17h2.3M261.50 93.17h-2.3M47.40 75.31h2.3M261.50 75.31h-2.3M47.40 57.46h2.3M261.50 57.46h-2.3M47.40 39.60h2.3M261.50 39.60h-2.3M47.40 21.74h2.3M261.50 21.74h-2.3" stroke="#505050" stroke-width="0.9" fill="none"/>
<path d="M47.40 261.60v2.3M98.09 261.60v2.3M148.77 261.60v2.3M199.46 261.60v2.3M250.15 261.60v2.3M96.60 198.00v2.3M146.60 198.00v2.3M197.00 198.00v2.3M247.00 198.00v2.3M47.40 261.60h2.3M261.50 261.60h-2.3M47.40 240.40h2.3M261.50 240.40h-2.3M47.40 219.20h2.3M261.50 219.20h-2.3M47.40 198.00h2.3M261.50 198.00h-2.3" stroke="#505050" stroke-width="0.9" fill="none"/>
<path d="M323.90 164.40v2.3M374.83 164.40v2.3M425.76 164.40v2.3M476.69 164.40v2.3M527.61 164.40v2.3M345.00 14.60v2.3M366.00 14.60v2.3M387.00 14.60v2.3M408.00 14.60v2.3M429.00 14.60v2.3M450.00 14.60v2.3M471.00 14.60v2.3M492.00 14.60v2.3M513.00 14.60v2.3M534.00 14.60v2.3M323.90 164.40h2.3M537.80 164.40h-2.3M323.90 149.42h2.3M537.80 149.42h-2.3M323.90 134.44h2.3M537.80 134.44h-2.3M323.90 119.46h2.3M537.80 119.46h-2.3M323.90 104.48h2.3M537.80 104.48h-2.3M323.90 89.50h2.3M537.80 89.50h-2.3M323.90 74.52h2.3M537.80 74.52h-2.3M323.90 59.54h2.3M537.80 59.54h-2.3M323.90 44.56h2.3M537.80 44.56h-2.3M323.90 29.58h2.3M537.80 29.58h-2.3M323.90 14.60h2.3M537.80 14.60h-2.3" stroke="#505050" stroke-width="0.9" fill="none"/>
<path d="M322.90 261.60v2.3M373.51 261.60v2.3M424.12 261.60v2.3M474.73 261.60v2.3M525.34 261.60v2.3M372.40 198.40v2.3M422.60 198.40v2.3M472.60 198.40v2.3M523.00 198.40v2.3M322.90 261.60h2.3M538.20 261.60h-2.3M322.90 230.00h2.3M538.20 230.00h-2.3M322.90 198.40h2.3M538.20 198.40h-2.3" stroke="#505050" stroke-width="0.9" fill="none"/>
<g font-family="Liberation Sans, sans-serif" font-size="10.5" fill="#333333" stroke="#333333" stroke-width="0.12">
<text x="47.40" y="177.15" text-anchor="middle">0</text><text x="99.88" y="177.15" text-anchor="middle">500</text><text x="152.35" y="177.15" text-anchor="middle">1000</text><text x="204.83" y="177.15" text-anchor="middle">1500</text><text x="257.30" y="177.15" text-anchor="middle">2000</text>
<text x="47.40" y="273.35" text-anchor="middle">0</text><text x="98.09" y="273.35" text-anchor="middle">500</text><text x="148.77" y="273.35" text-anchor="middle">1000</text><text x="199.46" y="273.35" text-anchor="middle">1500</text><text x="250.15" y="273.35" text-anchor="middle">2000</text>
<text x="323.90" y="177.15" text-anchor="middle">0</text><text x="374.83" y="177.15" text-anchor="middle">500</text><text x="425.76" y="177.15" text-anchor="middle">1000</text><text x="476.69" y="177.15" text-anchor="middle">1500</text><text x="527.61" y="177.15" text-anchor="middle">2000</text>
<text x="322.90" y="273.35" text-anchor="middle">0</text><text x="373.51" y="273.35" text-anchor="middle">500</text><text x="424.12" y="273.35" text-anchor="middle">1000</text><text x="474.73" y="273.35" text-anchor="middle">1500</text><text x="525.34" y="273.35" text-anchor="middle">2000</text>
<text x="44.20" y="42.08" text-anchor="end">3.5</text><text x="44.20" y="78.72" text-anchor="end">2.5</text><text x="44.20" y="115.38" text-anchor="end">1.5</text><text x="44.20" y="152.03" text-anchor="end">0.5</text>
<text x="42.00" y="23.75" text-anchor="end">4</text><text x="42.00" y="60.40" text-anchor="end">3</text><text x="42.00" y="97.05" text-anchor="end">2</text><text x="42.00" y="133.70" text-anchor="end">1</text>
<text x="42.60" y="170.35" text-anchor="end">0</text>
<text x="44.80" y="201.75" text-anchor="end">300</text><text x="44.80" y="222.95" text-anchor="end">200</text><text x="44.80" y="244.05" text-anchor="end">100</text>
<text x="40.30" y="265.25" text-anchor="end">0</text>
<text x="322.10" y="33.81" text-anchor="end">0.9</text><text x="322.10" y="48.67" text-anchor="end">0.8</text><text x="322.10" y="63.53" text-anchor="end">0.7</text><text x="322.10" y="78.39" text-anchor="end">0.6</text><text x="322.10" y="93.25" text-anchor="end">0.5</text><text x="322.10" y="108.11" text-anchor="end">0.4</text><text x="322.10" y="122.97" text-anchor="end">0.3</text><text x="322.10" y="137.83" text-anchor="end">0.2</text><text x="322.10" y="152.69" text-anchor="end">0.1</text>
<text x="321.20" y="18.95" text-anchor="end">1</text>
<text x="321.80" y="167.55" text-anchor="end">0</text>
<text x="322.20" y="203.15" text-anchor="end">0.02</text><text x="322.20" y="234.15" text-anchor="end">0.01</text>
<text x="318.30" y="264.75" text-anchor="end">0</text>
<text x="248.6" y="31.2" text-anchor="middle">(a)</text>
<text x="56" y="213.3" text-anchor="middle">(b)</text>
<text x="521.3" y="30" text-anchor="middle">(c)</text>
<text x="336.1" y="211.9" text-anchor="middle">(d)</text>
<text x="153.3" y="191.4" text-anchor="middle" font-size="11.3">Measured depth (<tspan dx="1.6" font-family="Liberation Serif, serif" font-style="italic" font-size="13">μ</tspan>m)</text>
<text x="432.4" y="191.4" text-anchor="middle" font-size="11.3">Measured depth (<tspan dx="1.6" font-family="Liberation Serif, serif" font-style="italic" font-size="13">μ</tspan>m)</text>
<text x="153.8" y="285.6" text-anchor="middle" font-size="11.3">Measured depth (<tspan dx="1.6" font-family="Liberation Serif, serif" font-style="italic" font-size="13">μ</tspan>m)</text>
<text x="433.0" y="285.6" text-anchor="middle" font-size="11.3">Measured depth (<tspan dx="1.6" font-family="Liberation Serif, serif" font-style="italic" font-size="13">μ</tspan>m)</text>
<text transform="translate(24.0 96.7) rotate(-90)" text-anchor="middle" font-size="11.1">Optical intensity (a.u.)</text>
<text transform="translate(23.8 218.4) rotate(-90)" text-anchor="middle" font-size="11.1">Optical intensity (a.u.)</text>
<text transform="translate(300.3 80.3) rotate(-90)" text-anchor="middle" font-size="11.1">Optical intensity (a.u.)</text>
<text transform="translate(296.4 218.3) rotate(-90)" text-anchor="middle" font-size="11.1">Optical intensity (a.u.)</text>
</g>
</svg></body></html>
